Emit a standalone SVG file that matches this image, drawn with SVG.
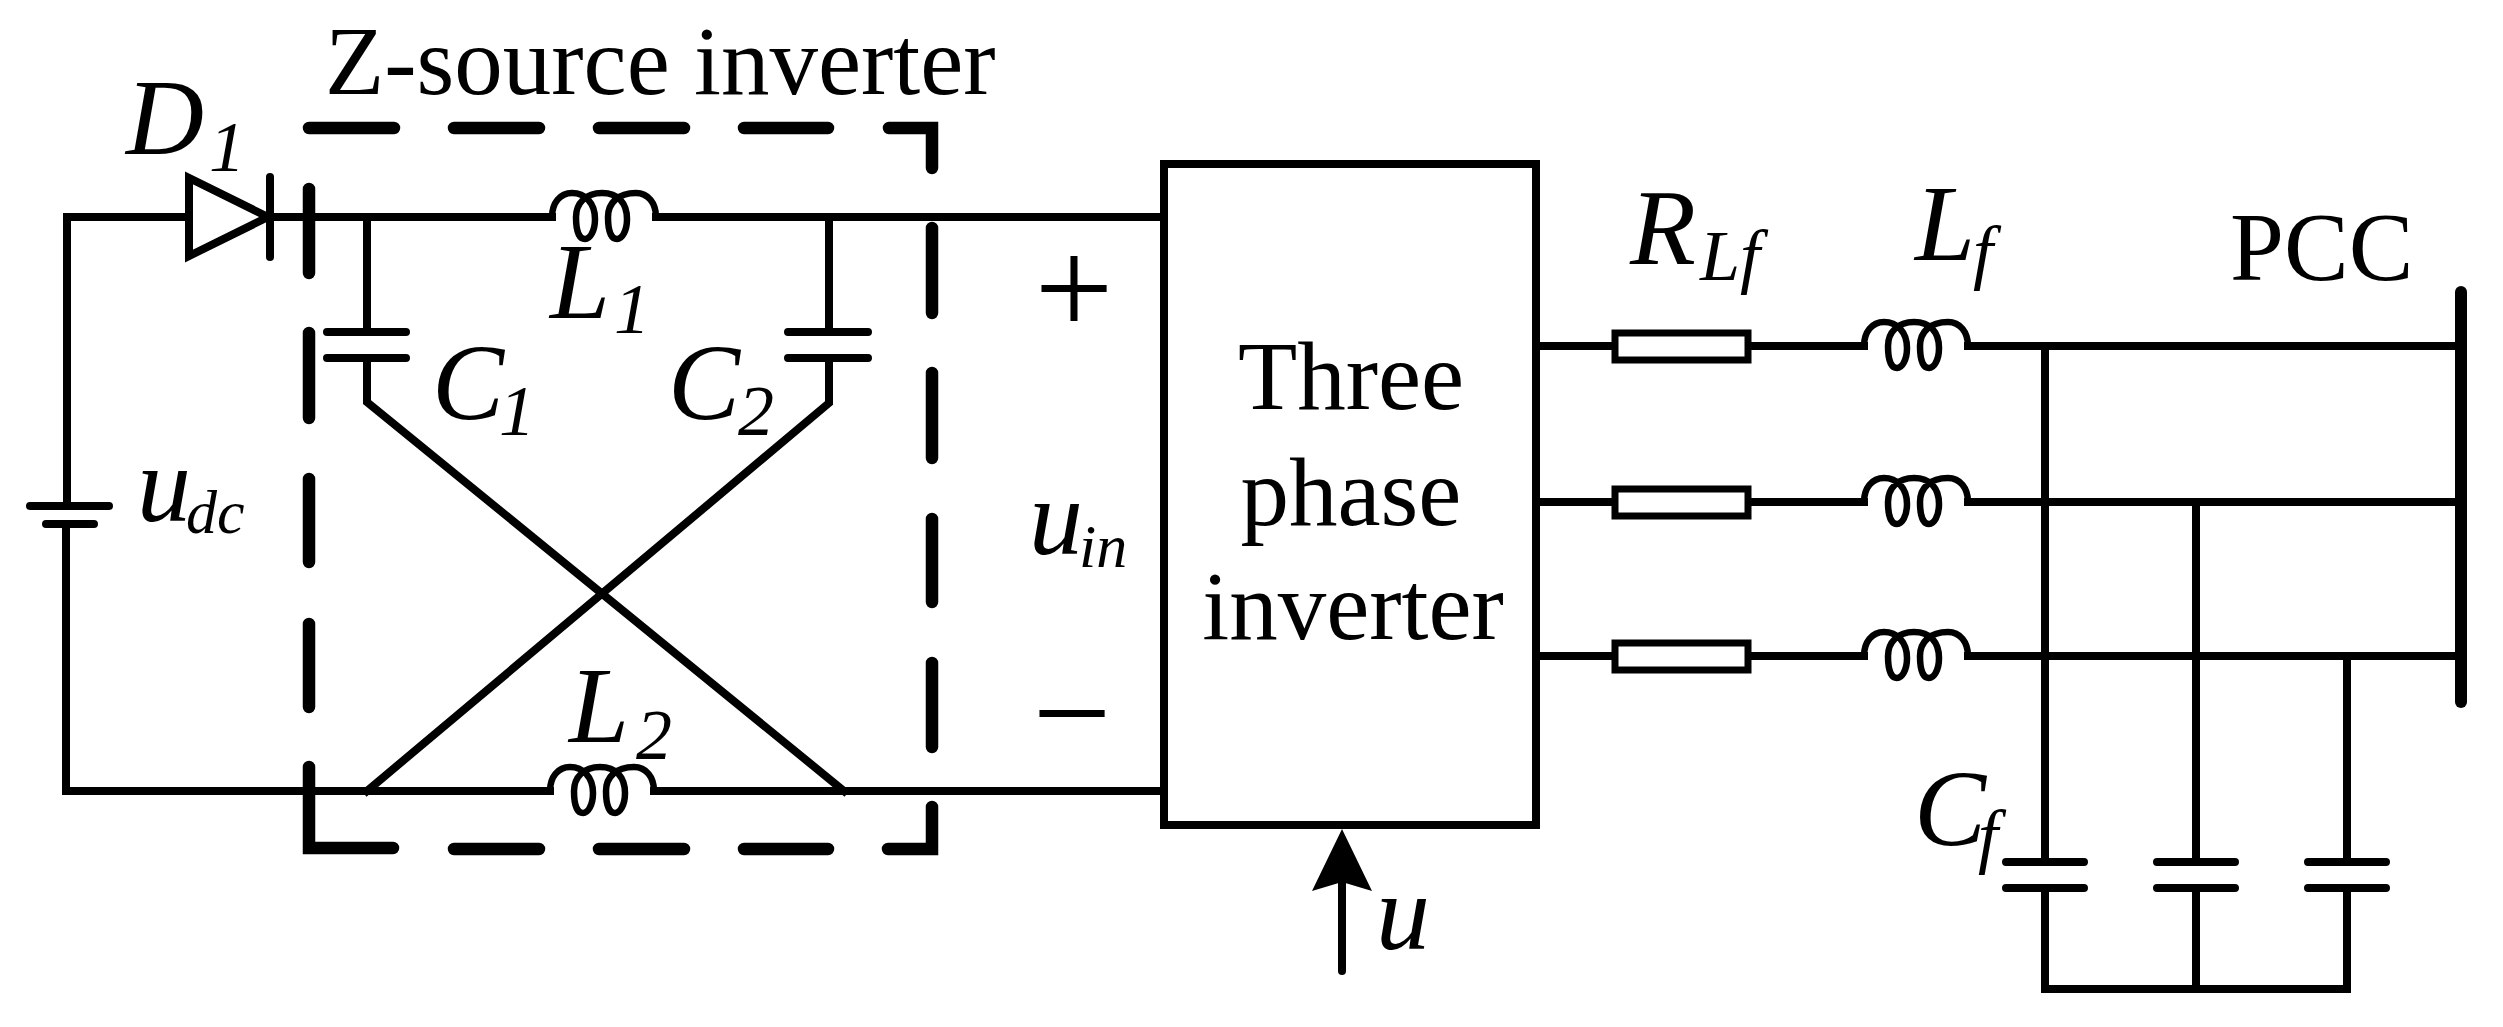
<svg xmlns="http://www.w3.org/2000/svg" width="2503" height="1027" viewBox="0 0 2503 1027">
<style>
text{font-family:"Liberation Serif","Times New Roman",serif;fill:#000}
.t{font-size:97px}
.i{font-size:108px;font-style:italic}
.s{font-size:72px;font-style:italic}
.w{fill:none;stroke:#000;stroke-width:8;stroke-linecap:square;stroke-linejoin:miter}
.p{fill:none;stroke:#000;stroke-width:8;stroke-linecap:round}
.c{fill:none;stroke:#000;stroke-width:6.5}
.r{fill:#fff;stroke:#000;stroke-width:7}
.o{font-size:140px}
</style>
<defs>
<path id="coil" class="c" d="M0 0C0 -14 8 -24 20 -24C33 -24 43 -14 43 2C43 14 38 22 33 22C27 22 24 14 24 0C24 -14 34 -24 50 -24C66 -24 75 -14 75 2C75 14 70 22 65 22C59 22 56 14 56 0C56 -14 66 -24 84 -24C96 -24 104 -14 104 0"/>
<marker id="head" markerUnits="userSpaceOnUse" markerWidth="70" markerHeight="70" refX="30" refY="53" orient="0" overflow="visible">
<polygon points="30,0 60,62 30,53 0,62" fill="#000"/>
</marker>
</defs>
<g id="connectors">
<path class="w" d="M552 217H67V506M656 217H1164"/>
<path class="w" d="M66 524V791H550M654 791H1164"/>
<path class="w" d="M367 217V332M367 358V402L844 791"/>
<path class="w" d="M829 217V332M829 358V403L367 791"/>
<path class="w" d="M1532 346H1612M1750 346H1864M1968 346H2461"/>
<path class="w" d="M1532 502H1612M1750 502H1864M1968 502H2461"/>
<path class="w" d="M1532 656H1612M1750 656H1864M1968 656H2461"/>
<path class="w" d="M2045 346V862M2045 888V989H2347V888M2347 862V656M2196 502V862M2196 888V989"/>
<path class="w" style="stroke-linecap:round" d="M1342 971V882" marker-end="url(#head)"/>
</g>
<g id="z-source-box">
<path fill="none" stroke="#000" stroke-width="12.5" stroke-linecap="round" stroke-linejoin="miter" d="M393 848H309V767M454 849H539M599 849H684M744 849H828M888 849H932V807M932 747V663M932 602V519M932 458V373M932 313V228M932 168V128H889M828 128H744M684 128H599M539 128H454M394 128H309M309 189V273M309 333V418M309 479V562M309 624V707"/>
</g>
<g id="D1">
<polygon points="189,178 189,256 268,217" fill="#fff" stroke="#000" stroke-width="8"/>
<path class="p" d="M270 177V257"/>
<text x="126" y="154" class="i">D<tspan x="209" y="171" class="s">1</tspan></text>
</g>
<g id="L1"><use href="#coil" x="552" y="217"/>
<text x="550" y="318" class="i">L<tspan x="614" y="333" class="s">1</tspan></text></g>
<g id="C1"><path class="p" d="M327 332H406M327 358H406"/>
<text x="432" y="419" class="i">C<tspan x="499" y="435" class="s">1</tspan></text></g>
<g id="C2"><path class="p" d="M788 332H868M788 358H868"/>
<text x="668" y="419" class="i">C<tspan x="738" y="435" class="s">2</tspan></text></g>
<g id="L2"><use href="#coil" x="550" y="791"/>
<text x="569" y="742" class="i">L<tspan x="636" y="759" class="s">2</tspan></text></g>
<g id="udc"><path class="p" d="M30 506H109M46 524H94"/>
<text x="137" y="521" class="i">u<tspan x="186" y="533" style="font-size:62px">dc</tspan></text></g>
<g id="title"><text x="325" y="94" class="t">Z-source inverter</text></g>
<g id="uin">
<text x="1074" y="335" class="o" text-anchor="middle">+</text>
<text x="1029" y="554" class="i">u<tspan x="1079" y="567" style="font-size:62px">in</tspan></text>
<text x="1072" y="760" class="o" text-anchor="middle">−</text>
</g>
<g id="inverter">
<rect x="1164" y="164" width="372" height="661" fill="#fff" stroke="#000" stroke-width="8"/>
<text x="1351" y="409" class="t" text-anchor="middle">Three</text>
<text x="1351" y="525" class="t" text-anchor="middle">phase</text>
<text x="1353" y="639" class="t" text-anchor="middle">inverter</text>
</g>
<g id="u-label"><text x="1376" y="949" class="i">u</text></g>
<g id="RLf">
<rect class="r" x="1615" y="333" width="133" height="27"/>
<rect class="r" x="1615" y="489" width="133" height="27"/>
<rect class="r" x="1615" y="643" width="133" height="27"/>
<text x="1630" y="264" class="i">R<tspan x="1700" y="280" class="s">Lf</tspan></text>
</g>
<g id="Lf">
<use href="#coil" x="1864" y="346"/><use href="#coil" x="1864" y="502"/><use href="#coil" x="1864" y="656"/>
<text x="1915" y="260" class="i">L<tspan x="1973" y="276" class="s">f</tspan></text>
</g>
<g id="PCC">
<path fill="none" stroke="#000" stroke-width="12" stroke-linecap="round" d="M2461 292V702"/>
<text x="2230" y="280" class="t">PCC</text>
</g>
<g id="Cf">
<path class="p" d="M2006 862H2084M2006 888H2084M2157 862H2235M2157 888H2235M2308 862H2386M2308 888H2386"/>
<text x="1914" y="845" class="i">C<tspan x="1978" y="860" class="s">f</tspan></text>
</g>
</svg>
